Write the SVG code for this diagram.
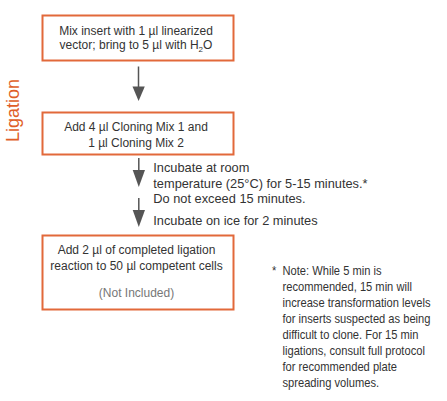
<svg xmlns="http://www.w3.org/2000/svg" width="447" height="401" viewBox="0 0 447 401">
<defs>
<style>
.box{fill:#fff;stroke:#E2693A;stroke-width:2}
.t{font-family:"Liberation Sans",Arial,sans-serif;font-size:12px;fill:#333}
.s{font-size:12.8px}
.c{text-anchor:middle}
.g{fill:#777}
.n{font-family:"Liberation Sans",Arial,sans-serif;font-size:13.6px;fill:#333}
.ln{stroke:#555;stroke-width:1.5;fill:none}
.hd{fill:#555}
.lab{font-family:"Liberation Sans",Arial,sans-serif;font-size:18px;fill:#E05E28}
</style>
</defs>
<rect width="447" height="401" fill="#fff"/>
<text class="lab" transform="translate(19,110.5) rotate(-90)" text-anchor="middle">Ligation</text>
<g id="connectors">
<line class="ln" x1="138.5" y1="66.5" x2="138.5" y2="88"/>
<polygon class="hd" points="132.5,86.5 144.8,86.5 138.6,101"/>
<line class="ln" x1="138.8" y1="158" x2="138.8" y2="172"/>
<polygon class="hd" points="132.7,170 145,170 138.8,187"/>
<line class="ln" x1="138.8" y1="198" x2="138.8" y2="212"/>
<polygon class="hd" points="132.7,210 145,210 138.8,227"/>
</g>
<g id="node1">
<rect class="box" x="42.5" y="15.5" width="191" height="45"/>
<text class="t c" x="136" y="35">Mix insert with 1 µl linearized</text>
<text class="t c" x="136" y="49">vector; bring to 5 µl with H<tspan font-size="8" dy="3">2</tspan><tspan dy="-3">O</tspan></text>
</g>
<g id="node2">
<rect class="box" x="42.5" y="112.5" width="191" height="42"/>
<text class="t c" x="136" y="131">Add 4 µl Cloning Mix 1 and</text>
<text class="t c" x="136" y="147">1 µl Cloning Mix 2</text>
</g>
<g id="step-labels">
<text class="t s" x="153.3" y="172">Incubate at room</text>
<text class="t s" x="153.3" y="187.5">temperature (25°C) for 5-15 minutes.*</text>
<text class="t s" x="153.3" y="203">Do not exceed 15 minutes.</text>
<text class="t s" x="153.3" y="224.5">Incubate on ice for 2 minutes</text>
</g>
<g id="node3">
<rect class="box" x="42.5" y="235.5" width="191" height="74"/>
<text class="t c" x="136.5" y="254">Add 2 µl of completed ligation</text>
<text class="t c" x="136.5" y="270">reaction to 50 µl competent cells</text>
<text class="t c g" x="136.5" y="296.5">(Not Included)</text>
</g>
<g id="note" transform="translate(272,0) scale(0.82,1)">
<text class="n" x="0" y="275">*</text>
<text class="n" x="12.8" y="275">Note: While 5 min is</text>
<text class="n" x="12.8" y="291">recommended, 15 min will</text>
<text class="n" x="12.8" y="307">increase transformation levels</text>
<text class="n" x="12.8" y="323">for inserts suspected as being</text>
<text class="n" x="12.8" y="339">difficult to clone. For 15 min</text>
<text class="n" x="12.8" y="355">ligations, consult full protocol</text>
<text class="n" x="12.8" y="371">for recommended plate</text>
<text class="n" x="12.8" y="387">spreading volumes.</text>
</g>
</svg>
